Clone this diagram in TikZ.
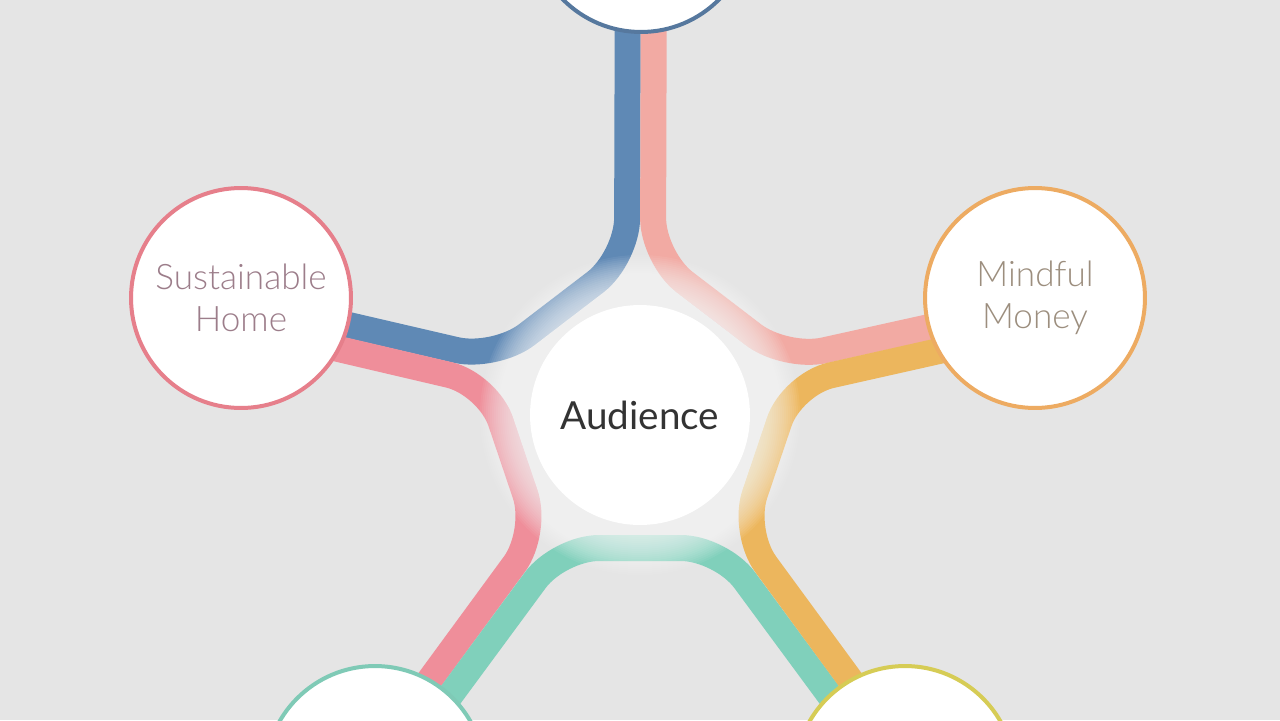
\documentclass[tikz,border=0pt]{standalone}
\usepackage{fontspec}
\setmainfont{Lato}
\newfontfamily\lightfont{Lato Light}
\definecolor{bgray}{HTML}{E5E5E5}
\definecolor{cblue}{HTML}{5F89B5}
\definecolor{csalmon}{HTML}{F2AAA3}
\definecolor{cpink}{HTML}{EF8E9A}
\definecolor{cteal}{HTML}{80D0BB}
\definecolor{corange}{HTML}{ECB65D}
\definecolor{etop}{HTML}{56789E}
\definecolor{ehome}{HTML}{E67F8B}
\definecolor{emoney}{HTML}{EDAB62}
\definecolor{ebotl}{HTML}{7FCAB6}
\definecolor{ebotr}{HTML}{D6CC55}
\definecolor{thome}{HTML}{9C7D8A}
\definecolor{tmoney}{HTML}{9C8E7E}
\pgfdeclarelayer{back}
\pgfsetlayers{back,main}
\begin{document}
\begin{tikzpicture}[x=0.02cm, y=-0.02cm, line join=round,
	band/.style={line width=0.52cm, rounded corners=0.8cm},
	topic/.style={circle, draw=#1, line width=0.08cm, fill=white, minimum size=4.4cm, inner sep=0pt, align=center, font=\lightfont\fontsize{20}{24}\selectfont}]
	\useasboundingbox (0,0) rectangle (1280,720);
	\clip (0,0) rectangle (1280,720);
	\path
	(640,415) coordinate (c)
	(627,258) coordinate (tl)
	(653,258) coordinate (tr)
	(495,359) coordinate (lt)
	(488,384) coordinate (lb)
	(785,359) coordinate (rt)
	(792,384) coordinate (rb)
	(538,532) coordinate (bll)
	(559,548) coordinate (blr)
	(721,548) coordinate (brl)
	(742,532) coordinate (brr)
	;
	% centre and topics
	\node[circle, fill=white, minimum size=4.4cm, font=\fontsize{22}{26}\selectfont, text=black!80] (aud) at (c) {Audience};
	\node[topic=etop] (top) at (641,-78) {};
	\node[topic=ehome, text=thome] (home) at (241,298) {Sustainable\\Home};
	\node[topic=emoney, text=tmoney] (money) at (1035,298) {Mindful\\Money};
	\node[topic=ebotl] (botl) at (375,776) {};
	\node[topic=ebotr] (botr) at (905,776) {};
	\begin{pgfonlayer}{back}
	\fill[bgray] (0,0) rectangle (1280,720);
	\draw[band, cblue] ([shift={(-13,0)}]top.center) -- (tl) -- (lt) -- ([shift={(0,2)}]home.center);
	\draw[band, csalmon] ([shift={(13,0)}]top.center) -- (tr) -- (rt) -- ([shift={(-2,6)}]money.center);
	\draw[band, cpink] ([shift={(-5,27)}]home.center) -- (lb) -- (bll) -- ([shift={(-10,-8)}]botl.center);
	\draw[band, cteal] ([shift={(10,8)}]botl.center) -- (blr) -- (brl) -- ([shift={(-10,8)}]botr.center);
	\draw[band, corange] ([shift={(2,31)}]money.center) -- (rb) -- (brr) -- ([shift={(10,-8)}]botr.center);
	% soft glow round the centre
	\foreach \r in {110,112,...,160}
	\fill[white, opacity=.06] (c) circle (\r);
	\end{pgfonlayer}
\end{tikzpicture}
\end{document}
